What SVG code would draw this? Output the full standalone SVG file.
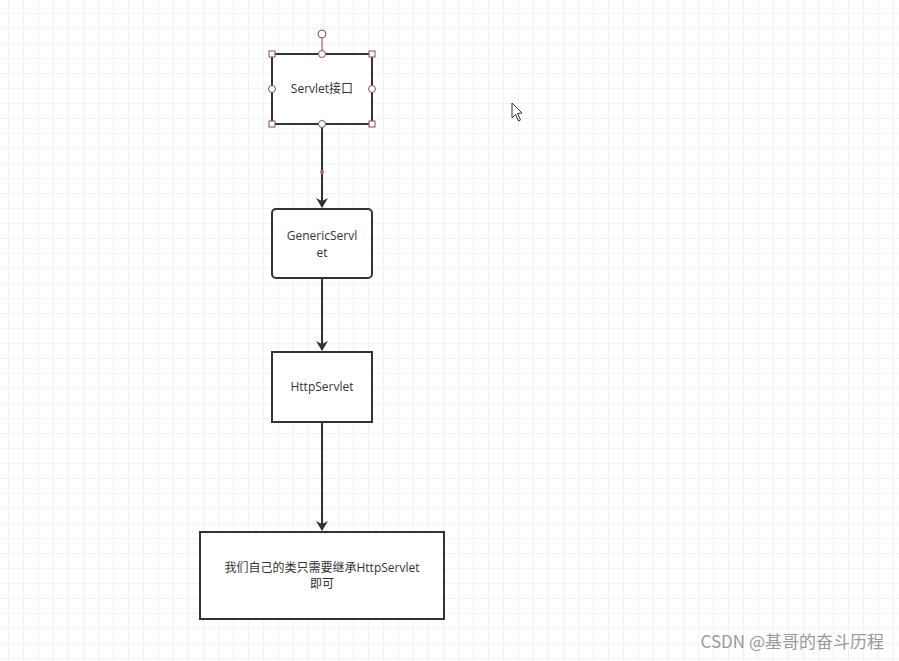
<svg xmlns="http://www.w3.org/2000/svg" width="899" height="661" viewBox="0 0 899 661">
<defs>
<pattern id="g" x="8" y="13" width="15" height="15" patternUnits="userSpaceOnUse"><path d="M0 0H15M0 0V15" fill="none" stroke="#e6e6e6" stroke-width="1"/></pattern>
<marker id="a" markerWidth="10" markerHeight="12" refX="9" refY="6" orient="auto" markerUnits="userSpaceOnUse"><path d="M0 0L10 6L0 12L3 6Z" fill="#333"/></marker>
</defs>
<style>
.n{fill:#fff;stroke:#333;stroke-width:2}
.t{font-family:"Open Sans","Noto Sans CJK SC",sans-serif;font-size:12px;fill:#333;text-anchor:middle}
.c{stroke:#333;stroke-width:2;fill:none;marker-end:url(#a)}
.h{fill:#fff;stroke:#8a4a5a;stroke-width:1}
</style>
<rect width="899" height="661" fill="#fff"/>
<rect width="899" height="661" fill="url(#g)"/>
<g id="connectors">
<path class="c" d="M322 124V207"/>
<path class="c" d="M322 278V350"/>
<path class="c" d="M322 422V530"/>
</g>
<g id="n1"><rect class="n" x="272" y="54" width="100" height="70" stroke="#4a3038"/><text class="t" x="322" y="93">Servlet接口</text>
<line x1="322" y1="38" x2="322" y2="54" stroke="#8a4a5a"/><circle class="h" cx="322" cy="34" r="4"/>
<rect class="h" x="269" y="51" width="6" height="6"/><rect class="h" x="369" y="51" width="6" height="6"/><rect class="h" x="269" y="121" width="6" height="6"/><rect class="h" x="369" y="121" width="6" height="6"/>
<circle class="h" cx="322" cy="54" r="3.5"/><circle class="h" cx="272" cy="89" r="3.5"/><circle class="h" cx="372" cy="89" r="3.5"/><circle class="h" cx="322" cy="124" r="3.5"/>
<circle cx="322" cy="172" r="2" fill="#c06080"/></g>
<g id="n2"><rect class="n" x="272" y="209" width="100" height="69" rx="4"/><text class="t" x="322" y="240">GenericServl</text><text class="t" x="322" y="257">et</text></g>
<g id="n3"><rect class="n" x="272" y="352" width="100" height="70"/><text class="t" x="322" y="391">HttpServlet</text></g>
<g id="n4"><rect class="n" x="200" y="532" width="244" height="87"/><text class="t" x="322" y="572">我们自己的类只需要继承HttpServlet</text><text class="t" x="322" y="588">即可</text></g>
<path d="M512 103V118L515.5 114.5L518.5 121L520.5 120L517.5 113.5L522 113Z" fill="#fff" stroke="#333" stroke-width="1"/>
<text x="884" y="648" text-anchor="end" font-family="'Noto Sans CJK SC',sans-serif" font-size="17" fill="#999">CSDN @基哥的奋斗历程</text>
</svg>
